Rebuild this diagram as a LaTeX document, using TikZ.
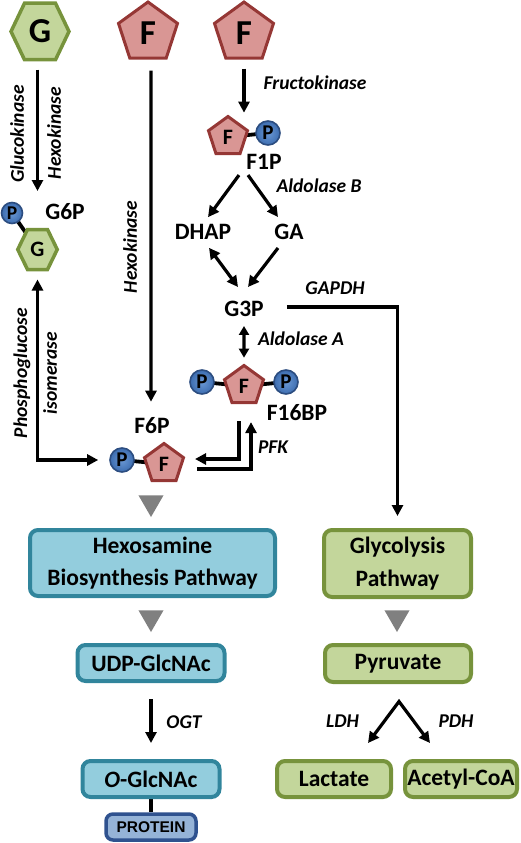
\documentclass[tikz,border=0pt]{standalone}
\usepackage{fontspec}
\setmainfont{Carlito}
\newfontfamily\arialfont{Liberation Sans}
\usetikzlibrary{shapes.geometric,arrows.meta,calc,backgrounds}
\definecolor{gfill}{HTML}{C3D69B}
\definecolor{gline}{HTML}{77933C}
\definecolor{rfill}{HTML}{D99694}
\definecolor{rline}{HTML}{953735}
\definecolor{bfill}{HTML}{93CDDD}
\definecolor{bline}{HTML}{31859C}
\definecolor{pfill}{HTML}{95B3D7}
\definecolor{pline}{HTML}{2F528F}
\definecolor{cin}{HTML}{6A98D4}
\definecolor{cout}{HTML}{3D6DB0}
\definecolor{cline}{HTML}{2C4D80}
\definecolor{trigray}{HTML}{808080}
\newcommand\hexshape[2]{\draw[hexsty] (#1.west) -- ($(#1.north)+(-#2,0)$) -- ($(#1.north)+(#2,0)$) -- (#1.east) -- ($(#1.south)+(#2,0)$) -- ($(#1.south)+(-#2,0)$) -- cycle;}
\tikzset{
  arr/.style={line width=3.2pt,-{Triangle[length=11pt,width=11pt]}},
  darr/.style={line width=3.2pt,{Triangle[length=11pt,width=11pt]}-{Triangle[length=11pt,width=11pt]}},
  sdarr/.style={line width=3.2pt,{Triangle[length=9pt,width=10pt]}-{Triangle[length=9pt,width=10pt]}},
  stub/.style={line width=3.8pt},
  pent/.style={regular polygon,regular polygon sides=5,draw=rline,fill=rfill,line width=3pt,inner sep=0pt},
  bigpent/.style={pent,minimum size=62pt,font=\fontsize{35}{35}\bfseries},
  smallpent/.style={pent,minimum size=41pt,font=\fontsize{22}{22}\bfseries},
  phos/.style={circle,draw=cline,line width=1.6pt,inner color=cin,outer color=cout,minimum size=24pt,inner sep=0pt,font=\fontsize{21}{21}\bfseries},
  lbl/.style={inner sep=0pt,font=\fontsize{23.5}{23.5}\bfseries},
  enz/.style={inner sep=0pt,font=\fontsize{19.5}{19.5}\bfseries\itshape},
  boxsty/.style={rounded corners=8pt,line width=4pt,inner sep=0pt,align=center,font=\fontsize{23.5}{32.5}\bfseries},
  bluebox/.style={boxsty,draw=bline,fill=bfill},
  greenbox/.style={boxsty,draw=gline,fill=gfill},
  hexnode/.style={inner sep=0pt,outer sep=0pt},
  hexsty/.style={draw=gline,fill=gfill,line width=3.5pt,line join=miter},
  tri/.style={regular polygon,regular polygon sides=3,shape border rotate=180,fill=trigray,minimum size=29pt,inner sep=0pt}
}
\begin{document}
\begin{tikzpicture}[x=1pt,y=-1pt]
\useasboundingbox (0,0) rectangle (520,843);
% glucose
\node[hexnode,minimum width=58pt,minimum height=56.5pt,font=\fontsize{35}{35}\bfseries] (G) at (40,31.5) {G};
\node[hexnode,minimum width=39.5pt,minimum height=40pt,font=\fontsize{22}{22}\bfseries] (G6) at (37.5,249.5) {G};
\node[phos,minimum size=21pt,font=\fontsize{19.5}{19.5}\bfseries] (Pg) at (12,213) {P};
\node[lbl] (G6l) at (65,212) {G6P};
% fructose
\node[bigpent] (Fa) at (148,33) {F};
\node[bigpent] (Fb) at (244,33) {F};
\node[smallpent] (F1) at (228,137) {F};
\node[phos] (P1) at (268,133) {P};
\node[lbl] (F1Pl) at (264,162) {F1P};
\node[lbl] (DHAP) at (203,232) {DHAP};
\node[lbl] (GA) at (289,232) {GA};
\node[lbl] (G3P) at (244,309) {G3P};
\node[smallpent] (F16) at (244,386) {F};
\node[phos] (P16a) at (202,382) {P};
\node[phos] (P16b) at (286,382) {P};
\node[lbl] (F16l) at (297,413) {F16BP};
\node[lbl] (F6l) at (152,426) {F6P};
\node[phos] (P6) at (122,460) {P};
\node[smallpent] (F6) at (164,464) {F};
% enzyme labels
\node[enz,rotate=90] (glk) at (17,134) {Glucokinase};
\node[enz,rotate=90] (hxk1) at (54,133) {Hexokinase};
\node[enz,rotate=90] (hxk2) at (130,247) {Hexokinase};
\node[enz] (frk) at (315,83) {Fructokinase};
\node[enz] (aldB) at (319,186) {Aldolase B};
\node[enz] (gapdh) at (335,288) {GAPDH};
\node[enz] (aldA) at (301,339) {Aldolase A};
\node[enz] (pfk) at (273,447) {PFK};
\node[enz,rotate=90] (pgi1) at (22,373) {Phosphoglucose};
\node[enz,rotate=90] (pgi2) at (50,373) {isomerase};
\node[enz] (ogt) at (184,722) {OGT};
\node[enz] (ldh) at (342.5,721) {LDH};
\node[enz] (pdh) at (456,721) {PDH};
% triangles
\node[tri] (t1) at (151,502.5) {};
\node[tri] (t2) at (151,617.5) {};
\node[tri] (t3) at (397,617.5) {};
% boxes
\node[bluebox,minimum width=245pt,minimum height=66pt] (HBP) at (152.5,563) {Hexosamine\\Biosynthesis Pathway};
\node[bluebox,minimum width=147pt,minimum height=36pt] (UDP) at (151,663) {UDP-GlcNAc};
\node[bluebox,minimum width=137pt,minimum height=36pt] (OG) at (151,779) {\textit{O}-GlcNAc};
\node[rounded corners=7pt,draw=pline,fill=pfill,line width=3.5pt,inner sep=0pt,minimum width=90pt,minimum height=26pt,font=\arialfont\fontsize{15.5}{15.5}\bfseries] (PROT) at (151,827) {PROTEIN};
\node[greenbox,minimum width=147pt,minimum height=67pt] (Gly) at (397.5,563.5) {Glycolysis\\Pathway};
\node[greenbox,minimum width=146pt,minimum height=37pt] (Pyr) at (398,663.5) {Pyruvate};
\node[greenbox,minimum width=114pt,minimum height=36pt] (Lac) at (334,779) {Lactate};
\node[greenbox,minimum width=112pt,minimum height=36pt] (Ace) at (461,779) {Acetyl-CoA};
% background: stubs and hexagons
\begin{scope}[on background layer]
  \draw[stub] (Pg.center) -- (G6.center);
  \draw[stub] (P1.center) -- (F1.center);
  \draw[stub] (P16a.center) -- (F16.center);
  \draw[stub] (P16b.center) -- (F16.center);
  \draw[stub] (P6.center) -- (F6.center);
  \draw[line width=4.5pt] (OG.south) -- (PROT.north);
  \hexshape{G}{15.5}
  \hexshape{G6}{10}
\end{scope}
% connectors
\draw[arr] ($(G6.north |- G.south)+(0,10)$) -- ($(G6.north)+(0,-38.5)$);
\draw[arr] ($(Fa.south)+(3,11)$) -- ($(F6l.north)+(-1,-16)$);
\draw[arr] ($(Fb.south)+(0,9)$) -- ($(Fb.south |- F1.north)+(0,-2)$);
\draw[arr] ($(F1.south)+(11,20)$) -- ($(DHAP.north)+(5,-7)$);
\draw[arr] ($(F1.south)+(20,20)$) -- ($(GA.north)+(-11,-7)$);
\draw[darr] ($(DHAP.south)+(6,8)$) -- ($(G3P.north)+(-6,-14)$);
\draw[arr] ($(GA.south)+(-11,8)$) -- ($(G3P.north)+(4,-14)$);
\draw[sdarr] ($(G3P.south)+(0,9)$) -- ($(F16.north)+(0,-6)$);
\draw[arr] ($(G3P.east)+(23,-2)$) -| ($(Gly.north)+(0,-12)$);
\draw[arr] ($(F6.east)+(14,5)$) -| ($(F16.south)+(7,18)$);
\draw[arr] ($(F16.south)+(-5,17)$) |- ($(F6.east)+(12,-5)$);
\draw[darr] ($(G6.south)+(0,10)$) |- ($(P6.west)+(-11,0)$);
\draw[arr] ($(UDP.south)+(0,16)$) -- ($(OG.north)+(0,-16)$);
\draw[darr,line join=miter] ($(Lac.north)+(34,-16)$) -- ($(Pyr.south)+(1,17.5)$) -- ($(Ace.north)+(-31,-16)$);
\end{tikzpicture}
\end{document}
